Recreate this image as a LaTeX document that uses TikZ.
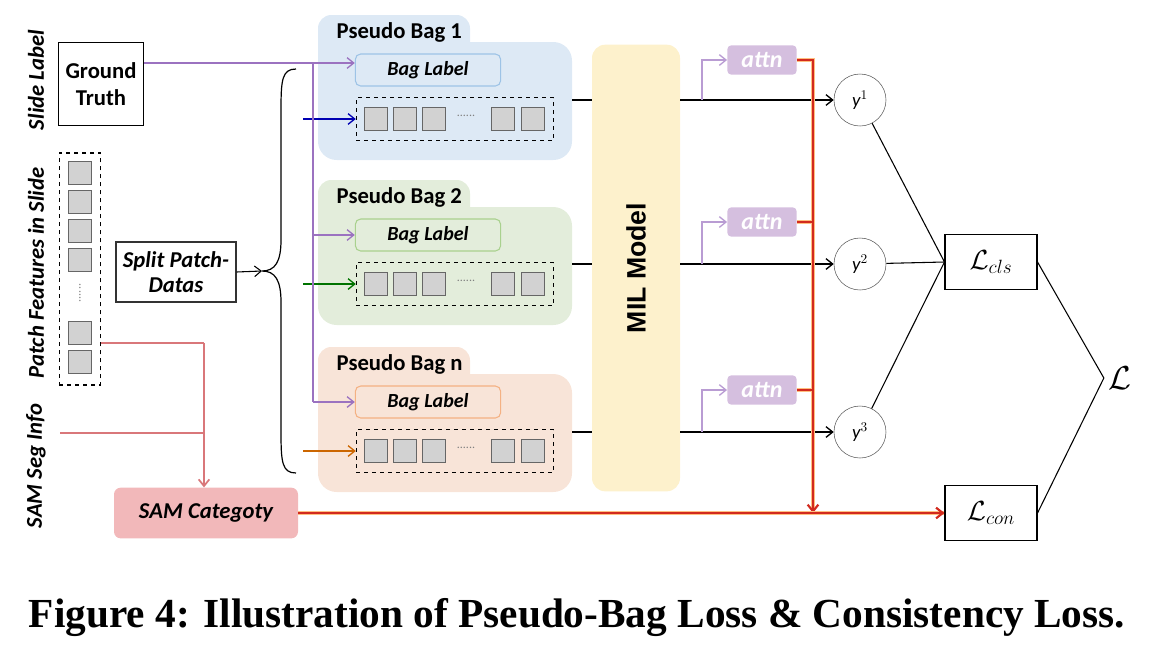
\documentclass[tikz,border=0pt]{standalone}
\usepackage{fontspec}
\setmainfont{Carlito}
\newfontfamily\arialb{Liberation Sans}
\newfontfamily\capf{Liberation Serif}
\usetikzlibrary{arrows.meta,calc}
\definecolor{pur}{HTML}{9B72C0}
\definecolor{pink}{HTML}{D9777A}
\definecolor{redl}{HTML}{D22A1E}
\definecolor{bblue}{HTML}{DDE9F5}
\definecolor{bgreen}{HTML}{E3EDDB}
\definecolor{bpeach}{HTML}{F8E4D8}
\definecolor{lblue}{HTML}{9DC3E6}
\definecolor{lgreen}{HTML}{A9D18E}
\definecolor{lorange}{HTML}{F4B183}
\definecolor{milc}{HTML}{FDF1CC}
\definecolor{attnc}{HTML}{D5BFDF}
\definecolor{samc}{HTML}{F2B8BA}
\begin{document}
\begin{tikzpicture}[x=0.75pt,y=-0.75pt,
  arr/.style={-{Straight Barb[length=5pt,width=8pt]}},
  sq/.style={draw=gray!80!black,fill=gray!35,minimum size=17pt,inner sep=0pt,line width=0.8pt},
  dbox/.style={draw,dashed,line width=0.8pt},
  blab/.style={rounded corners=4pt,line width=0.8pt,minimum width=109pt,minimum height=24pt,font=\fontsize{15}{15}\selectfont\bfseries\itshape},
  ptitle/.style={font=\fontsize{17}{17}\selectfont\bfseries,anchor=west},
  side/.style={rotate=90,font=\fontsize{17}{17}\selectfont\bfseries\itshape},
  attn/.style={fill=attnc,rounded corners=3pt,minimum width=52pt,minimum height=22pt,text=white,font=\fontsize{18}{18}\selectfont\bfseries\itshape,inner sep=0pt},
  circ/.style={circle,draw=gray!70!black,minimum size=39pt,inner sep=0pt,font=\fontsize{14}{14}\selectfont\itshape},
  lbox/.style={draw,line width=0.8pt,minimum width=69pt,minimum height=41pt,font=\fontsize{21}{21}\selectfont},
  redd/.style={draw=redl,line width=1.6pt},
]
\useasboundingbox (0,0) rectangle (1154,651);
% side labels
\node[side] (sl) at (36,80) {Slide Label};
\node[side] (pf) at (36,273) {Patch Features in Slide};
\node[side] (ss) at (36,466) {SAM Seg Info};
% ground truth
\node[draw,line width=0.8pt,minimum width=64pt,minimum height=62pt,align=center,font=\fontsize{17}{20}\selectfont\bfseries] (gt) at (101,84) {Ground\\Truth};
% patch column
\node[dbox,minimum width=31pt,minimum height=174pt] (col) at (80,269) {};
\foreach \y/\n in {173/c1,202/c2,231/c3,260/c4,333/c5,362/c6} \node[sq] (\n) at (80,\y) {};
\node[font=\small,rotate=90,text=gray] (cd) at (80,293) {......};
% split
\node[draw=black!80,line width=0.8pt,minimum width=90pt,minimum height=45pt,align=center,fill=white,font=\fontsize{17}{19}\selectfont\bfseries\itshape] (sp) at (176,272) {Split Patch-\\Datas};
\coordinate (bt) at (262,271);
\draw[arr,line width=0.8pt] (sp.east) -- (bt);
\draw[line width=0.9pt] (296,69) .. controls (282,69) and (281,80) .. (281,110) -- (281,240) .. controls (281,262) and (275,271) .. (262,271) .. controls (275,271) and (281,280) .. (281,302) -- (281,432) .. controls (281,462) and (282,473) .. (296,473);
% bags
\foreach \ty/\fc/\lc/\ac/\t/\n in {15/bblue/lblue/blue!70!black/1/a,180/bgreen/lgreen/green!45!black/2/b,347/bpeach/lorange/orange!80!black/n/c}{
  \fill[\fc,rounded corners=10pt] (318,\ty) rectangle (470,\ty+60);
  \fill[\fc,rounded corners=14pt] (318,\ty+27) rectangle (572,\ty+145);
  \node[ptitle] (t\n) at (332,\ty+17) {Pseudo Bag \t};
  \node[blab,draw=\lc,fill=\fc] (bl\n) at (428,\ty+55) {Bag Label};
  \node[dbox,minimum width=148pt,minimum height=32pt] (db\n) at (455,\ty+104) {};
  \foreach \x/\m in {376/1,405/2,434/3,503/4,533/5} \node[sq] (s\n\m) at (\x,\ty+104) {};
  \node[text=gray,font=\small] (d\n) at (466,\ty+101) {......};
  \coordinate (in\n) at (303,\ty+104);
  \draw[arr,\ac,line width=1pt] (in\n) -- (db\n.west);
}
% purple label lines
\coordinate (pv1) at (313,63);
\coordinate (pv3) at (313,\the\numexpr347+55\relax);
\draw[pur,line width=1pt] (gt.east|-pv1) -- (pv1) -- (pv3);
\draw[arr,pur,line width=1pt] (gt.east|-pv1) -- (pv1 -| bla.west);
\draw[arr,pur,line width=1pt] (pv1|-blb.west) -- (blb.west);
\draw[arr,pur,line width=1pt] (pv1|-blc.west) -- (blc.west);
% MIL
\node[fill=milc,rounded corners=10pt,minimum width=66pt,minimum height=335pt] (mil) at (636,268) {};
\node[rotate=90,font=\fontsize{20}{20}\selectfont\arialb\bfseries] (milt) at (636,268) {MIL Model};
% outputs
\foreach \y/\n/\ay/\k in {100/a/60/1,264/b/222/2,432/c/390/3}{
  \draw[line width=0.8pt] (572,\y) -- (mil.west|-0,\y);
  \node[circ] (y\k) at (860,\y) {y$^{\k}$};
  \draw[arr,line width=1pt] (mil.east|-y\k) -- (y\k.west);
  \node[attn] (at\k) at (762,\ay) {attn};
  \coordinate (br\k) at (702,\y);
  \draw[arr,pur!70,line width=1pt] (br\k) |- (at\k.west);
}
% red
\coordinate (rv) at (813,60);
\coordinate (rb) at (813,513);
\draw[orange!50,line width=3.5pt] (at1.east) -- (rv) -- (rb);
\draw[orange!50,line width=3.5pt] (at2.east) -- (at2.east-|rv);
\draw[orange!50,line width=3.5pt] (at3.east) -- (at3.east-|rv);
\draw[redd] (at2.east) -- (at2.east-|rv);
\draw[redd] (at3.east) -- (at3.east-|rv);
\draw[redd,arr] (at1.east) -- (rv) -- (rb);
% losses
\node[lbox] (lcls) at (991,262) {$\mathcal{L}_{cls}$};
\node[lbox] (lcon) at (991,513) {$\mathcal{L}_{con}$};
\node[font=\fontsize{34}{34}\selectfont] (L) at (1120,378) {$\mathcal{L}$};
\draw[line width=0.8pt] (y1) -- (lcls.west);
\draw[line width=0.8pt] (y2) -- (lcls.west);
\draw[line width=0.8pt] (y3) -- (lcls.west);
\draw[line width=0.8pt] (lcls.east) -- (L.west);
\draw[line width=0.8pt] (lcon.east) -- (L.west);
% SAM
\node[fill=samc,rounded corners=5pt,minimum width=138pt,minimum height=38pt,font=\fontsize{17}{17}\selectfont\bfseries\itshape] (sam) at (206,513) {SAM Categoty};
\coordinate (pk) at (204,343);
\coordinate (ps) at (60,433);
\draw[pink,line width=1.3pt] (col.east|-pk) -- (pk);
\draw[pink,line width=1.3pt] (ps) -- (ps-|pk);
\draw[pink,line width=1.3pt,arr] (pk) -- (sam.north-|pk);
\draw[orange!50,line width=3.5pt] (sam.east) -- (lcon.west);
\draw[redd,arr] (sam.east) -- (lcon.west);
% caption
\node[font=\capf\bfseries] (cap) at (577,618) {\resizebox{822pt}{!}{Figure 4: Illustration of Pseudo-Bag Loss \& Consistency Loss.}};
\end{tikzpicture}
\end{document}
